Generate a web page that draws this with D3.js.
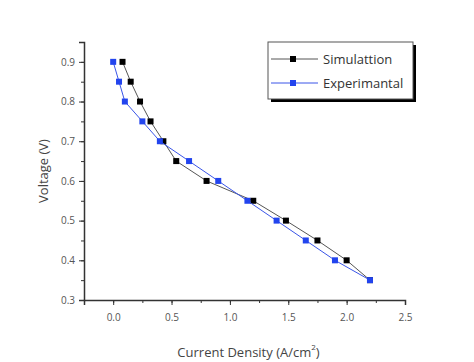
<!DOCTYPE html>
<html>
<head>
<meta charset="utf-8">
<script src="https://cdn.jsdelivr.net/npm/d3@7"></script>
<style>
  body { margin: 0; background: #fff; }
  text { font-family: "Open Sans", "Noto Sans", sans-serif; }
</style>
</head>
<body>
<script>
// Data
const voltage = [0.9, 0.85, 0.8, 0.75, 0.7, 0.65, 0.6, 0.55, 0.5, 0.45, 0.4, 0.35];
const simCurrent = [0.08, 0.15, 0.23, 0.32, 0.43, 0.54, 0.8, 1.2, 1.48, 1.75, 2.0, 2.2];
const expCurrent = [0.0, 0.05, 0.1, 0.25, 0.4, 0.65, 0.9, 1.15, 1.4, 1.65, 1.9, 2.2];
const xTicks = [0.0, 0.5, 1.0, 1.5, 2.0, 2.5];
const yTicks = [0.3, 0.4, 0.5, 0.6, 0.7, 0.8, 0.9];
const seriesNames = ["Simulattion", "Experimantal"];

const W = 474, H = 362;
const plot = {left: 84, right: 405, top: 42, bottom: 300};

const svg = d3.select("body").append("svg")
  .attr("width", W).attr("height", H);

const x = d3.scaleLinear().domain([-0.25, 2.5]).range([plot.left, plot.right]);
const y = d3.scaleLinear().domain([0.3, 0.95]).range([plot.bottom, plot.top]);

const axisColor = "#333";

// Eixo x
const gx = svg.append("g").attr("transform", "translate(0," + plot.bottom + ")");
gx.call(d3.axisBottom(x).tickValues(d3.range(-0.25, 2.51, 0.25)).tickSize(3).tickFormat(""));
gx.selectAll(".tick line").attr("stroke", axisColor);
gx.select(".domain").remove();
const gx2 = svg.append("g").attr("transform", "translate(0," + plot.bottom + ")");
gx2.call(d3.axisBottom(x).tickValues(xTicks).tickSize(5).tickPadding(9).tickFormat(d3.format(".1f")));
gx2.select(".domain").attr("stroke", axisColor).attr("stroke-width", 1.5);
gx2.selectAll(".tick line").attr("stroke", axisColor);
gx2.selectAll(".tick text").attr("fill", "#555").style("font-size", "10px");

// Eixo y
const gy = svg.append("g").attr("transform", "translate(" + plot.left + ",0)");
gy.call(d3.axisLeft(y).tickValues(d3.range(0.3, 0.951, 0.05)).tickSize(3).tickFormat(""));
gy.selectAll(".tick line").attr("stroke", axisColor);
gy.select(".domain").remove();
const gy2 = svg.append("g").attr("transform", "translate(" + plot.left + ",0)");
gy2.call(d3.axisLeft(y).tickValues(yTicks).tickSize(5).tickPadding(4).tickFormat(d3.format(".1f")));
gy2.select(".domain").attr("stroke", axisColor).attr("stroke-width", 1.5);
gy2.selectAll(".tick line").attr("stroke", axisColor);
gy2.selectAll(".tick text").attr("fill", "#555").style("font-size", "10px");

// Rotulos dos eixos
svg.append("text")
  .attr("transform", "translate(48," + ((plot.top + plot.bottom) / 2) + ") rotate(-90)")
  .attr("text-anchor", "middle")
  .attr("fill", "#444")
  .style("font-size", "13px")
  .text("Voltage (V)");

const xl = svg.append("text")
  .attr("x", (plot.left + plot.right) / 2 + 4).attr("y", 357)
  .attr("text-anchor", "middle")
  .attr("fill", "#444")
  .style("font-size", "13px");
xl.append("tspan").text("Current Density (A/cm");
xl.append("tspan").attr("dy", -7).style("font-size", "8px").text("2");
xl.append("tspan").attr("dy", 7).text(")");

// Series
const series = [
  {name: seriesNames[0], xs: simCurrent, line: "#555", mark: "#000"},
  {name: seriesNames[1], xs: expCurrent, line: "#3a55e8", mark: "#2244ee"}
];

const line = d3.line().x(d => x(d[0])).y(d => y(d[1]));

series.forEach(s => {
  const pts = s.xs.map((c, i) => [c, voltage[i]]);
  svg.append("path")
    .datum(pts)
    .attr("fill", "none")
    .attr("stroke", s.line)
    .attr("stroke-width", 1)
    .attr("d", line);
  svg.selectAll(null)
    .data(pts)
    .enter().append("rect")
    .attr("x", d => x(d[0]) - 3)
    .attr("y", d => y(d[1]) - 3)
    .attr("width", 6).attr("height", 6)
    .attr("fill", s.mark);
});

// Legenda
const lg = svg.append("g");
lg.append("rect").attr("x", 271).attr("y", 45).attr("width", 145).attr("height", 57).attr("fill", "#000");
lg.append("rect").attr("x", 268).attr("y", 42).attr("width", 145).attr("height", 57)
  .attr("fill", "#fff").attr("stroke", "#555").attr("stroke-width", 1);

series.forEach((s, i) => {
  const ly = 59 + i * 24;
  lg.append("line").attr("x1", 271).attr("x2", 318).attr("y1", ly).attr("y2", ly)
    .attr("stroke", s.line).attr("stroke-width", 1);
  lg.append("rect").attr("x", 290).attr("y", ly - 3).attr("width", 6).attr("height", 6).attr("fill", s.mark);
  lg.append("text").attr("x", 323).attr("y", ly + 5)
    .attr("fill", "#333").style("font-size", "13px").text(s.name);
});
</script>
</body>
</html>
